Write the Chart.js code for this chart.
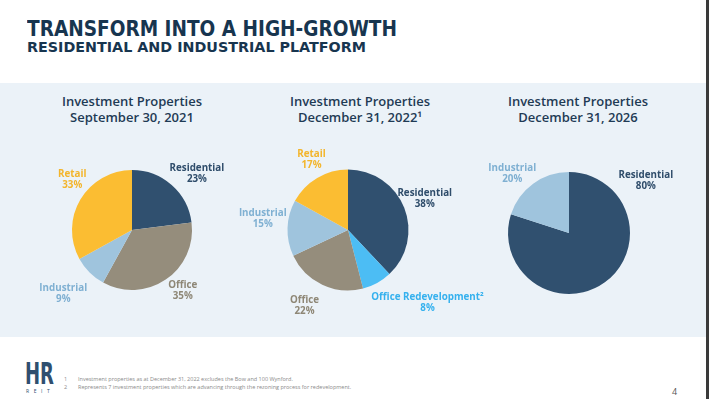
<!DOCTYPE html>
<html>
<head>
<meta charset="utf-8">
<script src="https://cdn.jsdelivr.net/npm/chart.js@4.4.0/dist/chart.umd.min.js"></script>
<style>
  body{margin:0;width:709px;height:399px;position:relative;background:#fff;overflow:hidden;font-family:'Open Sans',sans-serif;}
  .h1{position:absolute;left:27px;top:17px;font-family:'DejaVu Sans',sans-serif;font-weight:bold;font-size:20.5px;line-height:24px;color:#17354f;white-space:nowrap;transform-origin:left top;}
  .h2{position:absolute;left:27px;top:39px;font-family:'DejaVu Sans',sans-serif;font-weight:bold;font-size:14.5px;line-height:17px;color:#17354f;white-space:nowrap;transform-origin:left top;}
  .panel{position:absolute;left:0;top:83px;width:706px;height:254px;background:#ebf2f8;}
  .edge{position:absolute;left:706px;top:0;width:3px;height:399px;background:#3a3a3a;}
  .ctitle{position:absolute;width:220px;text-align:center;font-weight:600;font-size:13px;line-height:16px;color:#1f3b55;}
  .pie{position:absolute;}
  .logo{position:absolute;left:25px;top:357px;font-family:'DejaVu Sans',sans-serif;font-weight:bold;font-size:30px;line-height:34px;color:#2f4f6f;transform-origin:left top;}
  .reit{position:absolute;left:26px;top:388px;font-size:5px;color:#2f4f6f;letter-spacing:4.6px;}
  .notes{position:absolute;left:64px;top:376px;font-size:5.5px;line-height:7.5px;color:#8a8a8a;white-space:nowrap;}
  .notes span{display:inline-block;width:14px;}
  .pg{position:absolute;left:672px;top:385px;font-size:9px;color:#555;}
</style>
</head>
<body>
<div class="h1" id="h1">TRANSFORM INTO A HIGH-GROWTH</div>
<div class="h2" id="h2">RESIDENTIAL AND INDUSTRIAL PLATFORM</div>
<div class="panel"></div>
<div class="edge"></div>

<div class="ctitle" style="left:22px;top:93px">Investment Properties<br>September 30, 2021</div>
<div class="ctitle" style="left:250px;top:93px">Investment Properties<br>December 31, 2022¹</div>
<div class="ctitle" style="left:468px;top:93px">Investment Properties<br>December 31, 2026</div>

<div class="pie" id="w1"><canvas id="c1" width="300" height="200"></canvas></div>
<div class="pie" id="w2"><canvas id="c2" width="300" height="200"></canvas></div>
<div class="pie" id="w3"><canvas id="c3" width="300" height="200"></canvas></div>

<div class="logo" id="logo">HR</div>
<div class="reit">REIT</div>
<div class="notes"><span>1</span>Investment properties as at December 31, 2022 excludes the Bow and 100 Wynford.<br><span>2</span>Represents 7 investment properties which are advancing through the rezoning process for redevelopment.</div>
<div class="pg">4</div>

<script>
// ── DATA ──
const cats2021 = ['Residential', 'Office', 'Industrial', 'Retail'];
const vals2021 = [23, 35, 9, 33];
const cats2022 = ['Residential', 'Office Redevelopment²', 'Office', 'Industrial', 'Retail'];
const vals2022 = [38, 8, 22, 15, 17];
const cats2026 = ['Residential', 'Industrial'];
const vals2026 = [80, 20];

const SLICE = {
  'Residential':'#30506f', 'Office':'#958d7c', 'Industrial':'#9fc4dd',
  'Retail':'#fbbd32', 'Office Redevelopment²':'#4cbdf4'
};
const TEXT = {
  'Residential':'#2f4d6b', 'Office':'#8e8776', 'Industrial':'#7fb0d2',
  'Retail':'#f3b52c', 'Office Redevelopment²':'#35b1ee'
};

const el = id => document.getElementById(id);

// squeeze heading text to the slide's width
function fitWidth(id, w){
  const e = el(id);
  e.style.transform = 'scaleX(' + (w / e.getBoundingClientRect().width) + ')';
}
fitWidth('h1', 370);
fitWidth('h2', 339);
fitWidth('logo', 29);

// labels drawn around the pie: [angle clockwise from top (deg), distance from centre (px)]
const sliceLabels = {
  id:'sliceLabels',
  afterDatasetsDraw(chart, args, opts){
    const ctx = chart.ctx, meta = chart.getDatasetMeta(0), ds = chart.data.datasets[0];
    meta.data.forEach((arc, i) => {
      const p = opts.place[i], a = p[0] * Math.PI / 180;
      const x = arc.x + p[1] * Math.sin(a), y = arc.y - p[1] * Math.cos(a);
      const name = chart.data.labels[i];
      ctx.save();
      ctx.font = "bold 9.8px 'Open Sans', sans-serif";
      ctx.fillStyle = TEXT[name];
      ctx.textAlign = 'center'; ctx.textBaseline = 'middle';
      ctx.fillText(name, x, y - 5.5);
      ctx.fillText(ds.data[i] + '%', x, y + 5.5);
      ctx.restore();
    });
  }
};

function makePie(id, wrap, cx, cy, r, labels, data, place){
  const W = 300, H = 200;
  const w = el(wrap);
  w.style.left = (cx - W / 2) + 'px';
  w.style.top = (cy - H / 2) + 'px';
  new Chart(el(id).getContext('2d'), {
    type:'pie',
    data:{labels, datasets:[{data, backgroundColor:labels.map(l => SLICE[l]), borderWidth:0, hoverOffset:0}]},
    options:{responsive:false, animation:false,
      layout:{padding:{left:W/2 - r, right:W/2 - r, top:H/2 - r, bottom:H/2 - r}},
      plugins:{legend:{display:false}, tooltip:{enabled:false}, sliceLabels:{place}}},
    plugins:[sliceLabels]
  });
}

makePie('c1', 'w1', 132, 229.5, 60, cats2021, vals2021, [[49, 86], [140, 79], [227, 94], [-50, 78]]);
makePie('c2', 'w2', 347.5, 230, 60.5, cats2022, vals2022, [[67.6, 83], [132.6, 108], [210, 87], [277.7, 86], [-27.5, 79]]);
makePie('c3', 'w3', 569, 233, 61, cats2026, vals2026, [[55.7, 93], [-43.8, 82]]);
</script>
</body>
</html>
